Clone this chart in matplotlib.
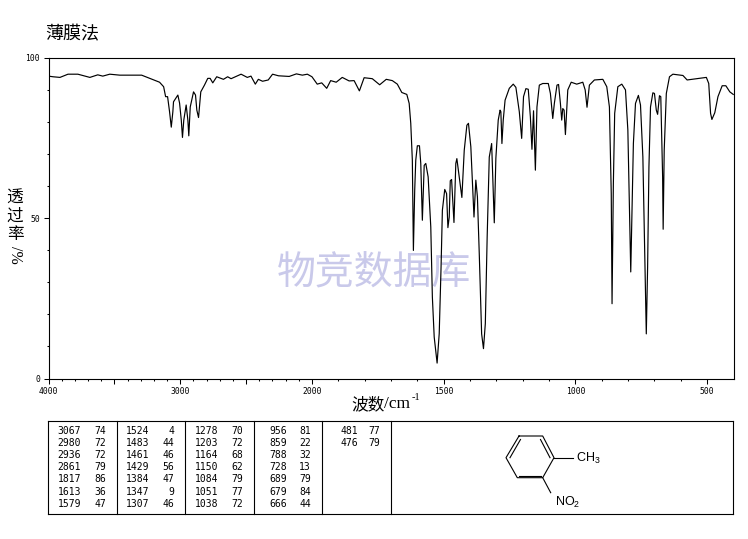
import matplotlib
matplotlib.use('Agg')
import matplotlib.pyplot as plt
import numpy as np

CJK = 'Noto Sans CJK SC'
MONO = 'DejaVu Sans Mono'

plt.rcParams['mathtext.default'] = 'regular'
plt.rcParams['mathtext.fontset'] = 'custom'
plt.rcParams['mathtext.rm'] = 'Liberation Sans'

# spectrum (wavenumber in cm-1, transmittance in %)
wavenumber = [4000, 3966, 3913, 3852, 3777, 3686, 3626, 3588, 3535, 3459, 3293, 3232, 3157, 3126,
              3111, 3096, 3081, 3068, 3056, 3051, 3018, 3005, 2992, 2983, 2973, 2955, 2942, 2935,
              2924, 2899, 2884, 2874, 2861, 2844, 2816, 2791, 2773, 2753, 2723, 2672, 2640, 2614,
              2538, 2491, 2463, 2430, 2407, 2375, 2332, 2299, 2254, 2173, 2118, 2073, 2035, 2000,
              1980, 1963, 1944, 1929, 1908, 1885, 1859, 1840, 1820, 1802, 1771, 1743, 1718, 1695,
              1676, 1659, 1640, 1631, 1625, 1619, 1615, 1610, 1606, 1600, 1592, 1587, 1581, 1574,
              1568, 1559, 1549, 1543, 1536, 1525, 1517, 1510, 1505, 1496, 1489, 1484, 1479, 1475,
              1470, 1461, 1454, 1450, 1441, 1431, 1422, 1412, 1406, 1397, 1385, 1378, 1372, 1365,
              1356, 1349, 1342, 1335, 1327, 1318, 1315, 1308, 1302, 1293, 1286, 1283, 1279, 1274,
              1267, 1251, 1236, 1226, 1213, 1204, 1197, 1188, 1179, 1171, 1165, 1159, 1152, 1146,
              1137, 1124, 1103, 1095, 1086, 1080, 1070, 1064, 1057, 1052, 1048, 1043, 1038, 1029,
              1016, 995, 972, 963, 956, 947, 928, 896, 881, 871, 864, 861, 856, 851,
              839, 824, 810, 801, 795, 790, 785, 780, 772, 761, 753, 744, 738, 731,
              726, 721, 715, 706, 700, 693, 688, 681, 676, 669, 667, 663, 655, 643,
              630, 592, 576, 503, 494, 487, 482, 471, 459, 443, 429, 414, 401]
transmittance = [94.2, 94.0, 93.8, 94.8, 94.8, 93.8, 94.6, 94.2, 94.8, 94.5, 94.5, 93.5, 92.3, 90.9,
                 87.8, 87.8, 83.1, 78.3, 83.1, 86.2, 88.3, 85.8, 80.5, 75.1, 80.5, 85.2, 80.5, 75.6,
                 84.6, 89.3, 88.3, 83.6, 81.3, 89.3, 91.4, 93.5, 93.5, 92.1, 94.0, 93.2, 94.0, 93.4,
                 94.8, 93.8, 94.2, 91.7, 93.2, 92.6, 93.0, 94.8, 94.3, 94.1, 94.9, 94.5, 94.8, 94.0,
                 91.7, 92.1, 90.4, 92.8, 92.3, 93.8, 92.7, 92.8, 89.6, 93.7, 93.4, 91.5, 93.2, 92.8,
                 91.7, 89.1, 88.5, 85.7, 79.5, 68.0, 39.9, 58.7, 68.0, 72.5, 72.5, 67.0, 49.3, 66.4,
                 67.0, 62.8, 47.2, 25.4, 12.9, 4.8, 14.0, 34.7, 52.4, 58.9, 57.6, 47.0, 50.3, 61.6,
                 62.0, 48.6, 67.0, 68.5, 62.8, 56.4, 71.1, 78.9, 79.5, 72.2, 50.3, 61.8, 56.6, 38.9,
                 13.9, 9.3, 17.1, 44.1, 69.0, 73.2, 65.9, 48.5, 68.6, 80.5, 83.6, 83.1, 73.2, 80.5,
                 86.7, 90.4, 91.7, 90.7, 83.1, 74.8, 87.8, 90.3, 90.1, 81.5, 71.4, 83.4, 64.9, 84.6,
                 91.4, 91.9, 91.9, 88.8, 81.0, 85.7, 91.4, 91.6, 85.7, 80.5, 84.1, 83.6, 76.0, 89.9,
                 92.3, 91.7, 92.3, 89.9, 84.5, 91.4, 93.0, 93.2, 90.9, 84.6, 57.6, 23.3, 60.7, 82.6,
                 90.9, 91.7, 89.9, 77.4, 52.4, 33.2, 52.4, 73.2, 85.7, 88.2, 85.2, 69.0, 43.1, 13.9,
                 34.7, 65.9, 84.6, 89.0, 88.8, 83.6, 82.3, 88.1, 87.8, 62.8, 46.5, 71.1, 88.8, 94.0,
                 94.8, 94.4, 93.0, 93.8, 91.9, 82.6, 80.7, 82.8, 87.8, 91.2, 91.2, 89.3, 88.5]

# peak table, one list per column
peak_columns = [
    [('3067', '74'), ('2980', '72'), ('2936', '72'), ('2861', '79'), ('1817', '86'), ('1613', '36'), ('1579', '47')],
    [('1524', '4'), ('1483', '44'), ('1461', '46'), ('1429', '56'), ('1384', '47'), ('1347', '9'), ('1307', '46')],
    [('1278', '70'), ('1203', '72'), ('1164', '68'), ('1150', '62'), ('1084', '79'), ('1051', '77'), ('1038', '72')],
    [('956', '81'), ('859', '22'), ('788', '32'), ('728', '13'), ('689', '79'), ('679', '84'), ('666', '44')],
    [('481', '77'), ('476', '79')],
]

x_major = [4000, 3500, 3000, 2500, 2000, 1500, 1000, 500]
x_labels = ['4000', '', '3000', '', '2000', '1500', '1000', '500']
y_major = [0, 50, 100]


# IR charts use a compressed scale above 2000 cm-1
def to_scale(x):
    x = np.asarray(x, dtype=float)
    return np.where(x > 2000, 2000 + (x - 2000) * 0.5, x)


def from_scale(v):
    v = np.asarray(v, dtype=float)
    return np.where(v > 2000, 2000 + (v - 2000) * 2, v)


fig = plt.figure(figsize=(7.48, 5.39), dpi=100)

# overlay in pixel coordinates for table, labels, watermark and structure
bg = fig.add_axes([0, 0, 1, 1], zorder=0)
bg.set_xlim(0, 748)
bg.set_ylim(539, 0)
bg.axis('off')

ax = fig.add_axes([48.5 / 748, 1 - 378.5 / 539, 685 / 748, 321 / 539], zorder=1)
ax.patch.set_visible(False)
ax.set_xscale('function', functions=(to_scale, from_scale))
ax.plot(wavenumber, transmittance, color='black', lw=0.85)

ax.set_xticks(x_major, x_labels, family=MONO, fontsize=5.8)
ax.set_xticks(np.arange(500, 4000, 100), minor=True)
ax.set_yticks(y_major, [str(v) for v in y_major], family=MONO, fontsize=5.8)
ax.set_yticks(np.arange(0, 101, 10), minor=True)
ax.set_xlim(4000, 400)
ax.set_ylim(0, 100)
ax.tick_params(which='major', length=3.6, width=0.75, pad=2.6)
ax.tick_params(which='minor', length=1.6, width=0.75)
for side in ax.spines.values():
    side.set_linewidth(0.8)

# title, axis labels, watermark
bg.text(45.5, 34, '薄膜法', family=CJK, fontsize=13, va='center', ha='left')
for ch, y in zip('透过率', [198, 216, 234]):
    bg.text(15, y, ch, family=CJK, fontsize=12, ha='center', va='center')
bg.text(15, 255, '/%', family='Liberation Serif', fontsize=11.5, rotation=270, ha='center', va='center')
bg.text(351, 404.5, '波数', family=CJK, fontsize=12, ha='left', va='center')
bg.text(384, 404, '/cm', family='Liberation Serif', fontsize=12.5, ha='left', va='center')
bg.text(412, 398, '-1', family='Liberation Serif', fontsize=7.5, ha='left', va='center')
bg.text(374, 273, '物竞数据库', family=CJK, fontsize=28, color='#c9c9ea', ha='center', va='center')

# peak table frame
table_x = [48.5, 117.5, 185.5, 254.5, 322.5, 391.5, 733.5]
for x in table_x:
    bg.plot([x, x], [421, 513.5], color='black', lw=0.8)
for y in [421, 513.5]:
    bg.plot([48.5, 733.5], [y, y], color='black', lw=0.8)

row_y = [430.7, 442.9, 455.1, 467.3, 479.5, 491.7, 504]
num_right = [81, 149.5, 218.5, 287, 358]
val_right = [106, 174, 243, 311, 380]
for col, nr, vr in zip(peak_columns, num_right, val_right):
    for (num, val), y in zip(col, row_y):
        bg.text(nr, y, num, family=MONO, fontsize=7, ha='right', va='center')
        bg.text(vr, y, val, family=MONO, fontsize=7, ha='right', va='center')

# o-nitrotoluene structure
ring_x = [519, 542.7, 554, 542.7, 517.3, 506, 519]
ring_y = [436, 436, 457.7, 477.7, 477.7, 457.7, 436]
bg.plot(ring_x, ring_y, color='black', lw=0.8)
bg.plot([520.5, 510], [439.5, 457.7], color='black', lw=0.8)
bg.plot([540.5, 550], [439.5, 457.7], color='black', lw=0.8)
bg.plot([519.5, 541.5], [475.5, 475.5], color='black', lw=0.8)
bg.plot([554, 572.7], [457.7, 457.7], color='black', lw=0.8)
bg.plot([542.7, 550.7], [477.7, 492.7], color='black', lw=0.8)
bg.text(576.5, 458.5, 'CH$_3$', family='Liberation Sans', fontsize=9, ha='left', va='center')
bg.text(555.5, 502, 'NO$_2$', family='Liberation Sans', fontsize=9, ha='left', va='center')

fig.savefig('out.png', dpi=100)
